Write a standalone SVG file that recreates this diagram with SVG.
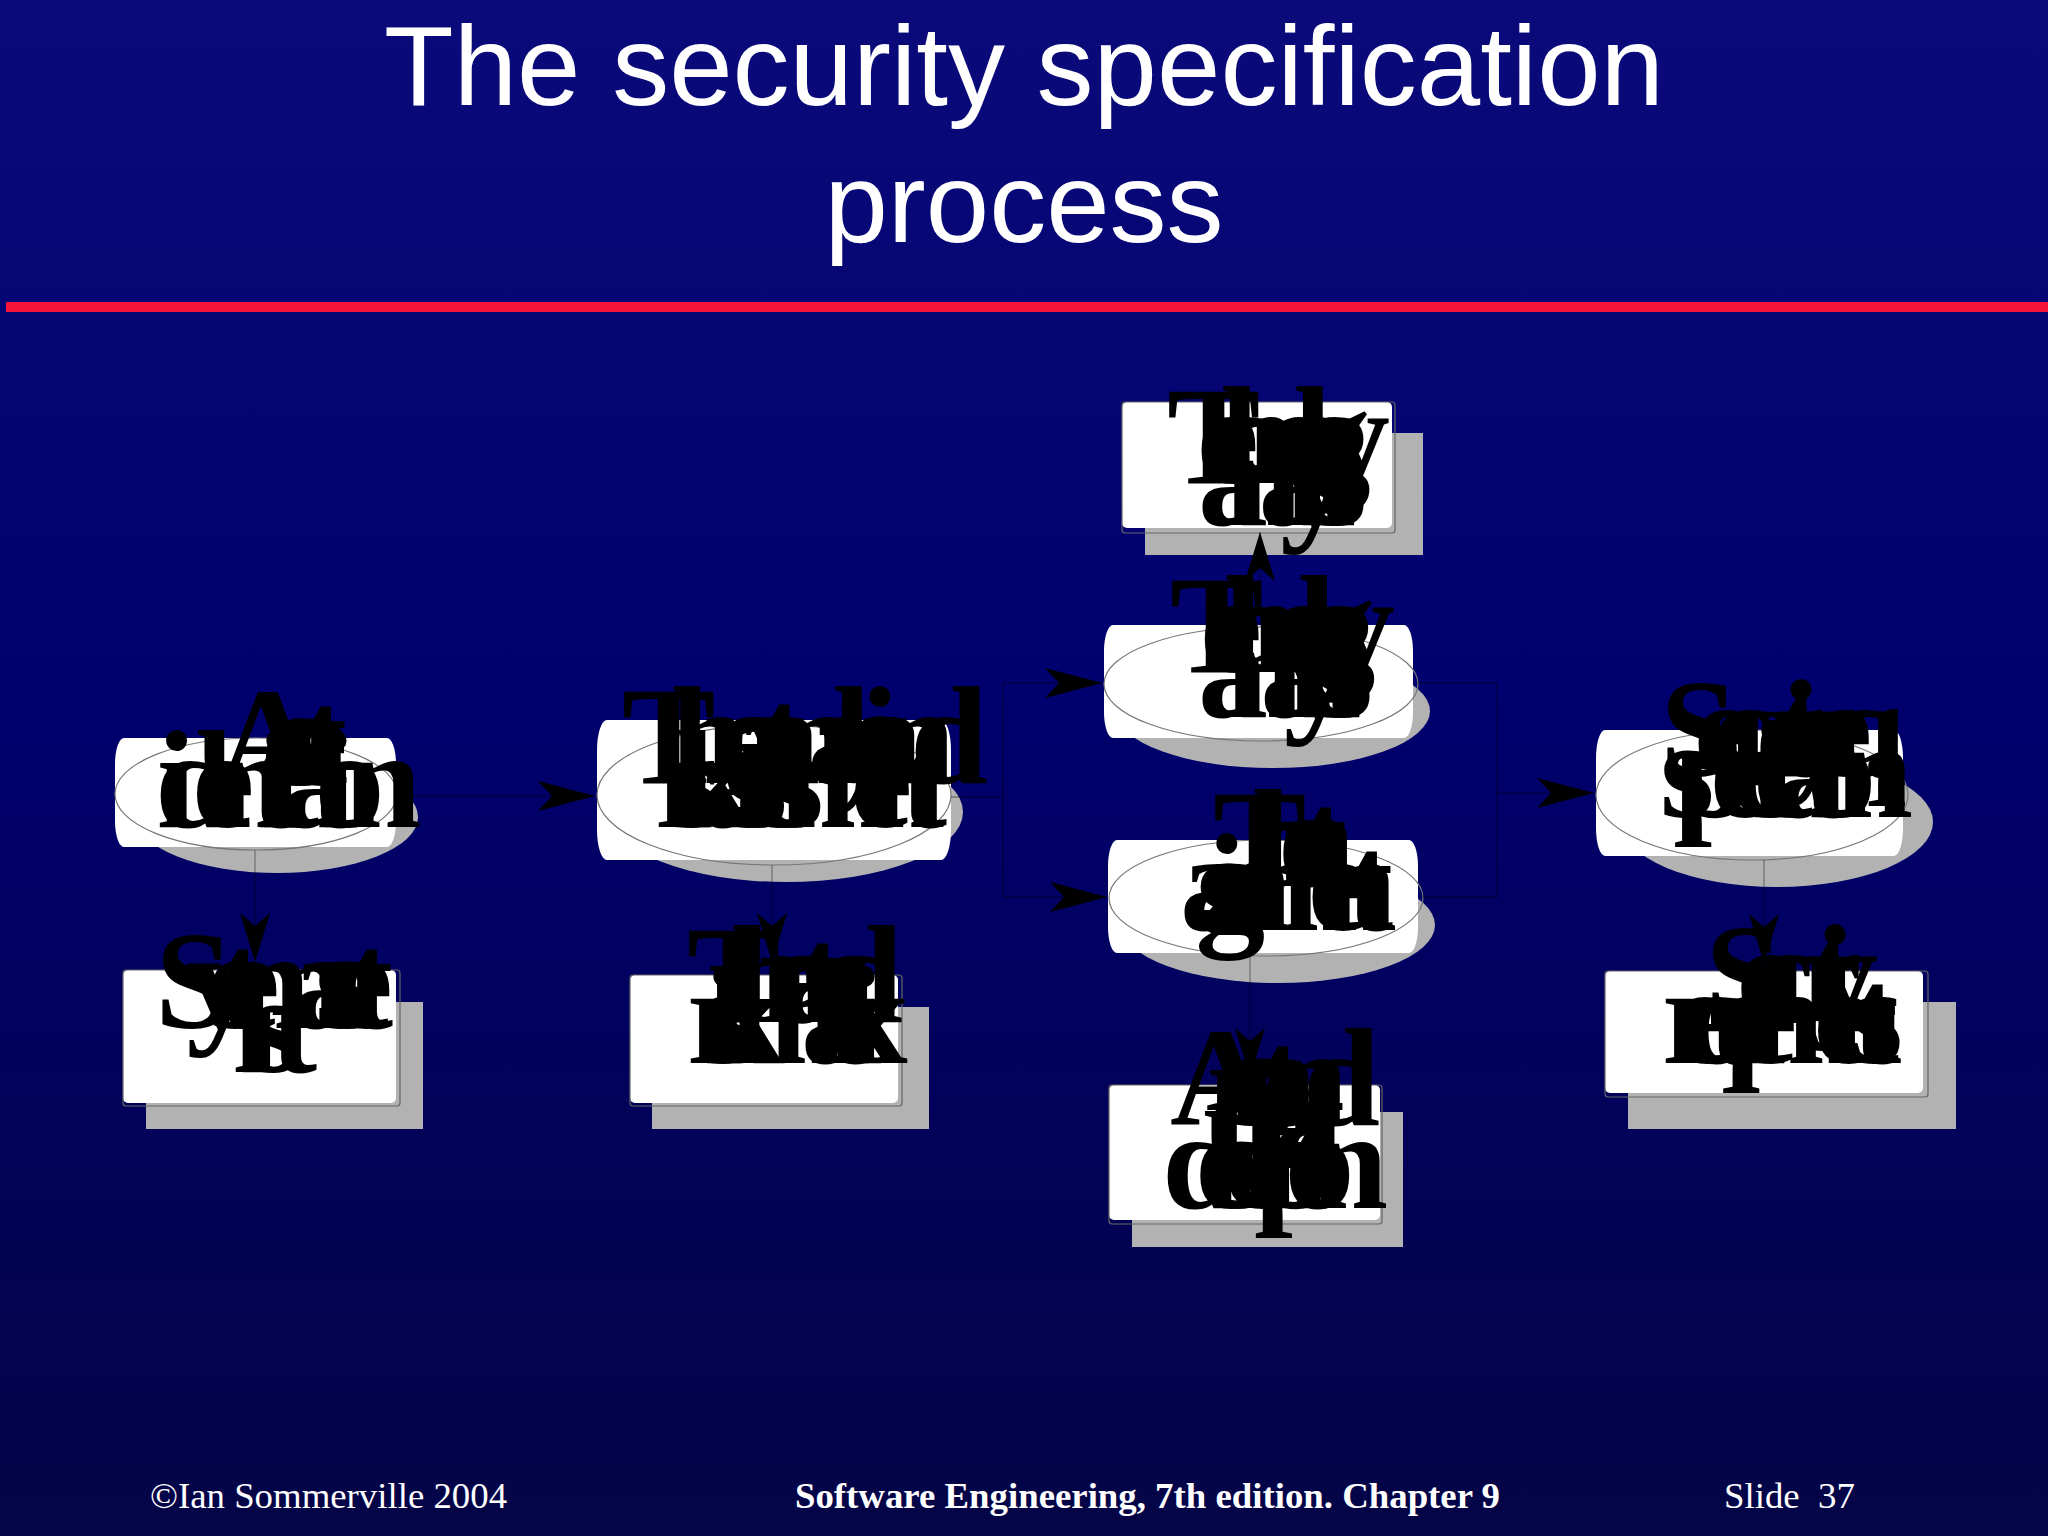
<svg xmlns="http://www.w3.org/2000/svg" width="2048" height="1536" viewBox="0 0 2048 1536">
<defs>
<linearGradient id="bg" x1="0" y1="0" x2="0" y2="1">
<stop offset="0" stop-color="#0a0a7a"/>
<stop offset="0.45" stop-color="#00006e"/>
<stop offset="1" stop-color="#040446"/>
</linearGradient>
<marker id="ah" markerUnits="userSpaceOnUse" markerWidth="58" markerHeight="32" viewBox="0 0 58 32" refX="57" refY="16" orient="auto">
<path d="M0,1 L57,16 L0,31 L14,16 Z" fill="#000"/>
</marker>
<marker id="av" markerUnits="userSpaceOnUse" markerWidth="50" markerHeight="32" viewBox="0 0 50 32" refX="49" refY="16" orient="auto">
<path d="M0,1 L49,16 L0,31 L13,16 Z" fill="#000"/>
</marker>
</defs>
<style>
.title{font-family:"Liberation Sans",Arial,sans-serif;font-size:114px;fill:#fff;text-anchor:middle}
.foot{font-family:"Liberation Serif","Times New Roman",serif;font-size:36.8px;fill:#fff}
.shadow{fill:#b2b2b2}
.fill{fill:#fff}
.oval{fill:none;stroke:#777;stroke-width:1.2}
.frame{fill:none;stroke:#666;stroke-width:1.2}
.lbl{font-family:"Liberation Serif","Times New Roman",serif;font-weight:bold;font-size:140px;fill:#000}
.conn{fill:none;stroke:#000;stroke-opacity:0.35;stroke-width:1.3}
</style>
<rect x="0" y="0" width="2048" height="1536" fill="url(#bg)"/>
<text class="title" x="1024" y="105">The security specification</text>
<text class="title" x="1024" y="242">process</text>
<rect x="6" y="302" width="2042" height="10" fill="#f5143c"/>

<g id="asset-identification">
<ellipse class="shadow" cx="277" cy="817" rx="141" ry="56"/>
<rect class="fill" x="115" y="738" width="281" height="109" rx="9" ry="26"/>
<ellipse class="oval" cx="256" cy="794" rx="141" ry="56"/>
<text class="lbl" x="217" y="785" textLength="130" lengthAdjust="spacing">Asset</text>
<text class="lbl" x="155" y="827" textLength="265" lengthAdjust="spacing">identification</text>
</g>

<g id="system-asset-list">
<rect class="shadow" x="146" y="1002" width="277" height="127"/>
<rect class="fill" x="123" y="970" width="273" height="133" rx="5"/>
<rect class="frame" x="123" y="970" width="277" height="136" rx="3"/>
<text class="lbl" x="155" y="1028" textLength="238" lengthAdjust="spacing">System asset</text>
<text class="lbl" x="233" y="1072" textLength="84" lengthAdjust="spacing">list</text>
</g>

<g id="threat-analysis">
<ellipse class="shadow" cx="786" cy="812" rx="177" ry="70"/>
<rect class="fill" x="597" y="720" width="354" height="140" rx="10" ry="30"/>
<ellipse class="oval" cx="774" cy="795" rx="177" ry="70"/>
<text class="lbl" x="622" y="783" textLength="366" lengthAdjust="spacing">Threat analysis and</text>
<text class="lbl" x="655" y="827" textLength="292" lengthAdjust="spacing">risk assessment</text>
</g>

<g id="threat-risk-matrix">
<rect class="shadow" x="652" y="1007" width="277" height="122"/>
<rect class="fill" x="630" y="975" width="268" height="128" rx="5"/>
<rect class="frame" x="630" y="975" width="272" height="131" rx="3"/>
<text class="lbl" x="687" y="1022" textLength="216" lengthAdjust="spacing">Threat and</text>
<text class="lbl" x="687" y="1063" textLength="221" lengthAdjust="spacing">risk matrix</text>
</g>

<g id="technology-analysis-report">
<rect class="shadow" x="1145" y="433" width="278" height="122"/>
<rect class="fill" x="1122" y="402" width="270" height="126" rx="5"/>
<rect class="frame" x="1122" y="402" width="273" height="131" rx="3"/>
<text class="lbl" x="1167" y="483" textLength="223" lengthAdjust="spacing">Technology</text>
<text class="lbl" x="1198" y="525" textLength="169" lengthAdjust="spacing">analysis</text>
</g>

<g id="technology-analysis">
<ellipse class="shadow" cx="1273" cy="711" rx="157" ry="57"/>
<rect class="fill" x="1104" y="625" width="309" height="113" rx="9" ry="26"/>
<ellipse class="oval" cx="1261" cy="684" rx="157" ry="57"/>
<text class="lbl" x="1170" y="672" textLength="225" lengthAdjust="spacing">Technology</text>
<text class="lbl" x="1198" y="717" textLength="175" lengthAdjust="spacing">analysis</text>
</g>

<g id="threat-assignment">
<ellipse class="shadow" cx="1278" cy="925" rx="157" ry="58"/>
<rect class="fill" x="1108" y="840" width="310" height="113" rx="9" ry="26"/>
<ellipse class="oval" cx="1266" cy="898" rx="157" ry="58"/>
<text class="lbl" x="1213" y="886" textLength="134" lengthAdjust="spacing">Threat</text>
<text class="lbl" x="1180" y="930" textLength="213" lengthAdjust="spacing">assignment</text>
</g>

<g id="asset-threat-description">
<rect class="shadow" x="1132" y="1112" width="271" height="135"/>
<rect class="fill" x="1109" y="1085" width="271" height="135" rx="5"/>
<rect class="frame" x="1109" y="1085" width="273" height="139" rx="3"/>
<text class="lbl" x="1170" y="1125" textLength="210" lengthAdjust="spacing">Asset and</text>
<text class="lbl" x="1205" y="1167" textLength="140" lengthAdjust="spacing">threat</text>
<text class="lbl" x="1162" y="1208" textLength="226" lengthAdjust="spacing">description</text>
</g>

<g id="security-req-specification">
<ellipse class="shadow" cx="1777" cy="822" rx="156" ry="65"/>
<rect class="fill" x="1596" y="730" width="307" height="126" rx="9" ry="28"/>
<ellipse class="oval" cx="1752" cy="795" rx="156" ry="65"/>
<text class="lbl" x="1660" y="776" textLength="237" lengthAdjust="spacing">Security req.</text>
<text class="lbl" x="1660" y="817" textLength="253" lengthAdjust="spacing">specification</text>
</g>

<g id="security-requirements">
<rect class="shadow" x="1628" y="1002" width="328" height="127"/>
<rect class="fill" x="1605" y="971" width="318" height="122" rx="5"/>
<rect class="frame" x="1605" y="971" width="323" height="126" rx="3"/>
<text class="lbl" x="1705" y="1021" textLength="173" lengthAdjust="spacing">Security</text>
<text class="lbl" x="1662" y="1063" textLength="241" lengthAdjust="spacing">requirements</text>
</g>

<g id="connectors">
<path class="conn" d="M255,850 V962" marker-end="url(#av)"/>
<path class="conn" d="M397,796 H595" marker-end="url(#ah)"/>
<path class="conn" d="M772,865 V962" marker-end="url(#av)"/>
<path class="conn" d="M951,797 H1003"/>
<path class="conn" d="M1003,683 V897"/>
<path class="conn" d="M1003,683 H1102" marker-end="url(#ah)"/>
<path class="conn" d="M1003,897 H1107" marker-end="url(#ah)"/>
<path class="conn" d="M1260,627 V532" marker-end="url(#av)"/>
<path class="conn" d="M1250,957 V1077" marker-end="url(#av)"/>
<path class="conn" d="M1418,683 H1497 V897 H1423"/>
<path class="conn" d="M1497,793 H1594" marker-end="url(#ah)"/>
<path class="conn" d="M1764,860 V963" marker-end="url(#av)"/>
</g>

<text class="foot" x="150" y="1508">©Ian Sommerville 2004</text>
<text class="foot" x="795" y="1508" font-weight="bold">Software Engineering, 7th edition. Chapter 9</text>
<text class="foot" x="1724" y="1508" xml:space="preserve">Slide  37</text>
</svg>
